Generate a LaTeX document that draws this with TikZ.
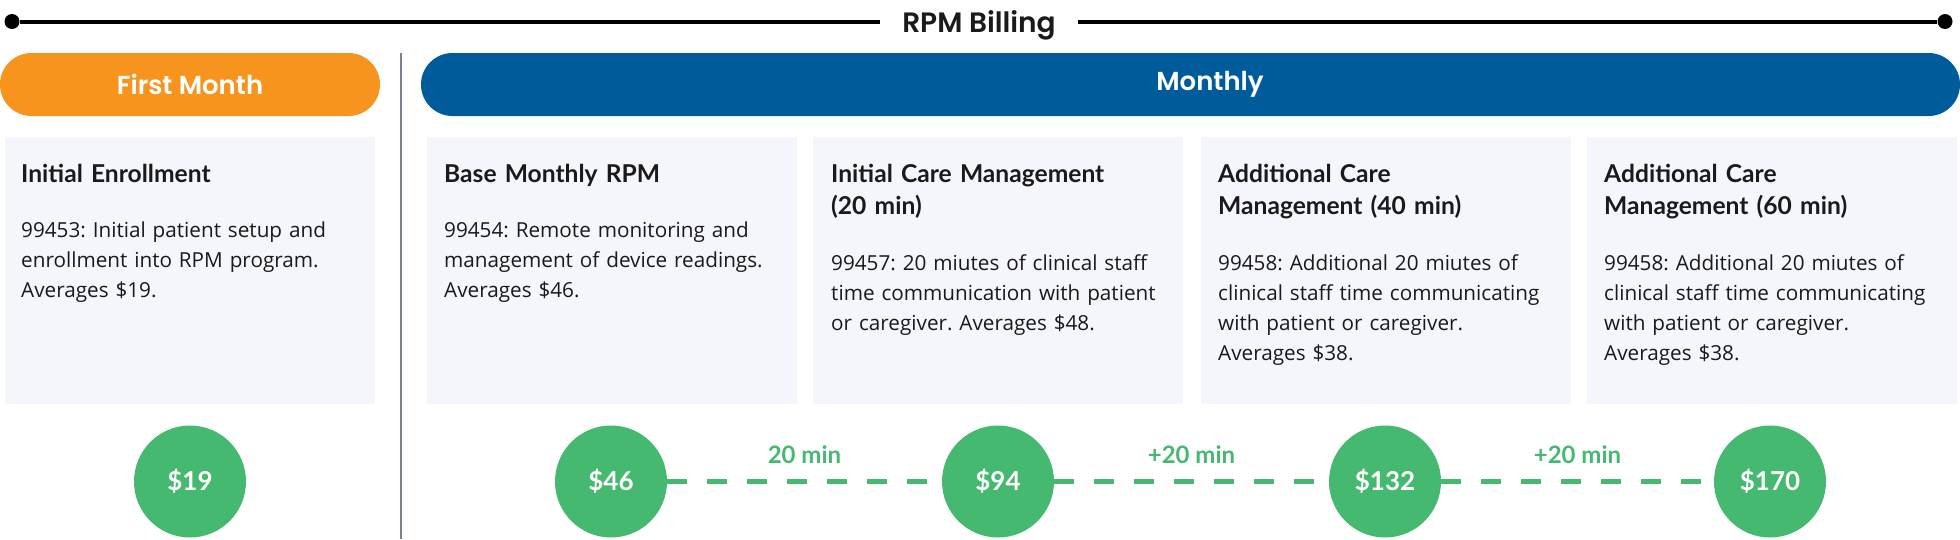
\documentclass[tikz,border=0pt]{standalone}
\usepackage{fontspec}
\setmainfont{Lato}
\newfontfamily\headfont{Poppins SemiBold}
\newfontfamily\bodyfont{Open Sans}
\frenchspacing
\definecolor{porange}{HTML}{F7941E}
\definecolor{pblue}{HTML}{005B9B}
\definecolor{pgreen}{HTML}{45B96F}
\definecolor{cardbg}{HTML}{F5F6FB}
\definecolor{sepcol}{HTML}{7A7F9E}
\definecolor{textdark}{HTML}{1A1A1A}
\begin{document}
\begin{tikzpicture}[x=1pt,y=-1pt,
  card/.style={fill=cardbg, minimum width=370, minimum height=267, inner sep=0},
  ctitle/.style={anchor=base west, inner sep=0, text width=360, align=left,
    font=\fontsize{24.6}{32}\selectfont\bfseries, text=textdark},
  cbody/.style={anchor=base west, inner sep=0, text width=360, align=left,
    font=\bodyfont\fontsize{20.7}{30}\selectfont\frenchspacing, text=textdark},
  price/.style={circle, fill=pgreen, minimum size=112, inner sep=0, text=white,
    font=\fontsize{26}{30}\selectfont\bfseries},
  gaplabel/.style={text=pgreen, inner sep=0, font=\fontsize{24}{28}\selectfont\bfseries},
  link/.style={draw=pgreen, line width=5, dash pattern=on 20 off 20},
  pill/.style={rounded corners=31.5, minimum height=63, inner sep=0},
  pilltext/.style={text=white, inner sep=0, font=\headfont\fontsize{26}{30}\selectfont},
  dot/.style={circle, fill=black, minimum size=15, inner sep=0},
  topline/.style={draw=black, line width=4},
  sepline/.style={draw=sepcol, line width=2},
]
\useasboundingbox (0,0) rectangle (1960,539);

% top line
\node[dot] (L) at (12,21.5) {};
\node[dot] (R) at (1945,21.5) {};
\node[anchor=base, inner xsep=22, inner ysep=0, text=textdark,
  font=\headfont\fontsize{28}{32}\selectfont] (title) at (979,32) {RPM Billing};
\draw[topline] (L) -- (L -| title.west);
\draw[topline] (R) -- (R -| title.east);

% separator
\coordinate (s1) at (401,53);
\coordinate (s2) at (401,539);
\draw[sepline] (s1) -- (s2);

% pills
\node[pill, fill=porange, minimum width=380] (firstbar) at (190,84.5) {};
\node[pilltext] (first) at (190,84.5) {First Month};
\node[pill, fill=pblue, minimum width=1539] (monthbar) at (1190.5,84.5) {};
\node[pilltext] (monthly) at (1210,84.5) {Monthly};

% cards
\node[card] (c1) at (190,270.5) {};
\node[card] (c2) at (612,270.5) {};
\node[card] (c3) at (998,270.5) {};
\node[card] (c4) at (1385.5,270.5) {};
\node[card] (c5) at (1772,270.5) {};

\node[ctitle] (t1) at (21,182) {Initial Enrollment};
\node[cbody] (b1) at (21,237) {99453: Initial patient setup and\\enrollment into RPM program.\\Averages \$19.};

\node[ctitle] (t2) at (444,182) {Base Monthly RPM};
\node[cbody] (b2) at (444,237) {99454: Remote monitoring and\\management of device readings.\\Averages \$46.};

\node[ctitle] (t3) at (831,182) {Initial Care Management\\(20 min)};
\node[cbody] (b3) at (831,270) {99457: 20 miutes of clinical staff\\time communication with patient\\or caregiver. Averages \$48.};

\node[ctitle] (t4) at (1218,182) {Additional Care\\Management (40 min)};
\node[cbody] (b4) at (1218,270) {99458: Additional 20 miutes of\\clinical staff time communicating\\with patient or caregiver.\\Averages \$38.};

\node[ctitle] (t5) at (1604,182) {Additional Care\\Management (60 min)};
\node[cbody] (b5) at (1604,270) {99458: Additional 20 miutes of\\clinical staff time communicating\\with patient or caregiver.\\Averages \$38.};

% prices
\node[price] (p1) at (190,481.5) {\$19};
\node[price] (p2) at (611,481.5) {\$46};
\node[price] (p3) at (998,481.5) {\$94};
\node[price] (p4) at (1385,481.5) {\$132};
\node[price] (p5) at (1770,481.5) {\$170};

\draw[link] (p2) -- node[gaplabel, midway, yshift=26.5] (g1) {20 min} (p3);
\draw[link] (p3) -- node[gaplabel, midway, yshift=26.5] (g2) {+20 min} (p4);
\draw[link] (p4) -- node[gaplabel, midway, yshift=26.5] (g3) {+20 min} (p5);
\end{tikzpicture}
\end{document}
